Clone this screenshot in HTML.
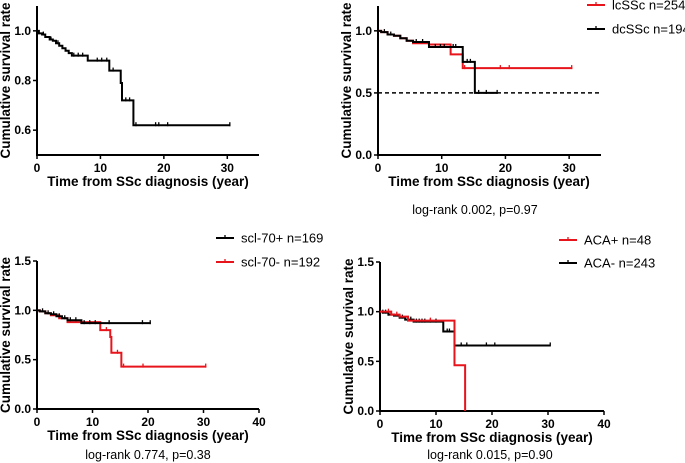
<!DOCTYPE html>
<html><head><meta charset="utf-8">
<style>
html,body{margin:0;padding:0;background:#fff;}
svg{display:block;font-family:"Liberation Sans",Arial,sans-serif;}
.tk{font-size:12px;font-weight:bold;fill:#000;}
.tt{font-size:13.5px;font-weight:bold;fill:#000;}
.lg{font-size:13px;fill:#000;}
.lr{font-size:12.5px;fill:#000;}
</style></head>
<body>
<svg id="chart" width="685" height="463" viewBox="0 0 685 463"></svg>
<script>
// ---- data ----
const p1Times = [0.3,0.8,1.3,2,2.5,3,3.5,4,4.5,5,5.5,8,11.4,13.2,13.4,15.2];
const p1Surv  = [0.99,0.985,0.975,0.965,0.96,0.95,0.94,0.93,0.92,0.91,0.90,0.88,0.84,0.79,0.72,0.62];
const p1End = 30.5;
const p1Cens = [1,2.2,3.3,5.8,6.5,7.2,9.5,10.2,11,12,14,14.6,15.6,18.7,19.2,20.6,30.4];

const p2RedTimes = [0.5,1.5,2.5,3.5,4.5,5.5,8,11.4,13.3];
const p2RedSurv  = [0.99,0.97,0.96,0.94,0.92,0.90,0.89,0.81,0.70];
const p2RedEnd = 30.5;
const p2RedCens = [13.6,19.2,20.6,30.4];
const p2BlkTimes = [0.5,1.5,2.5,3.5,4.5,5.5,8,13.3,15.2];
const p2BlkSurv  = [0.99,0.97,0.96,0.94,0.92,0.91,0.87,0.75,0.50];
const p2BlkEnd = 18.7;
const p2BlkCens = [1,2,6,7,9,9.8,10.4,11.8,12.2,13.3,14,14.5,15.8,17,18.7];
const p2Ref = 0.5;

const p3BlkTimes = [0.5,1.5,2.5,3.5,4.5,5.5,8];
const p3BlkSurv  = [0.99,0.97,0.96,0.94,0.92,0.90,0.87];
const p3BlkEnd = 20.5;
const p3BlkCens = [1,2,3,4,5,6,7,8.5,9.5,10.5,13,19,20.4];
const p3RedTimes = [0.5,1.5,2.5,4,5.5,11.4,13.2,13.4,15.2];
const p3RedSurv  = [0.99,0.97,0.95,0.92,0.88,0.80,0.73,0.57,0.43];
const p3RedEnd = 30.5;
const p3RedCens = [12.5,14.5,15.6,19.1,30.4];

const p4RedTimes = [2,3.5,5,13.3,15.2];
const p4RedSurv  = [0.97,0.95,0.91,0.46,0.0];
const p4RedEnd = 15.2;
const p4RedCens = [1.5,3,9];
const p4BlkTimes = [0.5,1.5,2.5,3.5,4.5,6,11.3,13.3];
const p4BlkSurv  = [0.99,0.97,0.96,0.94,0.92,0.90,0.80,0.66];
const p4BlkEnd = 30.4;
const p4BlkCens = [0.5,1,1.5,3.5,4,5.5,6.5,7,7.5,8,9,10,12.4,12,14.5,15.5,19,20.5,30.4];

const p1XTicks = [0,10,20,30], p1YTicks = [0.6,0.8,1.0];
const p2XTicks = [0,10,20,30], p2YTicks = [0.0,0.5,1.0];
const p3XTicks = [0,10,20,30,40], p3YTicks = [0.0,0.5,1.0,1.5];
const p4XTicks = [0,10,20,30,40], p4YTicks = [0.0,0.5,1.0,1.5];

// ---- drawing ----
const svg = document.getElementById('chart');
const NS = 'http://www.w3.org/2000/svg';
function mk(tag, attrs, parent){
  const e = document.createElementNS(NS, tag);
  for (const k in attrs) e.setAttribute(k, attrs[k]);
  (parent||svg).appendChild(e);
  return e;
}
function fmtY(v){ return v.toFixed(1); }

function panel(name, cfg){
  const g = mk('g', {});
  
  
  const sx = t => cfg.x0 + (t - 0) / (cfg.xmax) * (cfg.x1 - cfg.x0);
  const sy = v => cfg.y0 - (v - cfg.ymin) / (cfg.ymax - cfg.ymin) * (cfg.y0 - cfg.y1);
  const ax = mk('path', {d:`M${cfg.x0},${cfg.y1}V${cfg.y0}H${cfg.x1}`, fill:'none', stroke:'#000', 'stroke-width':2}, g);
  
  
  cfg.xt.forEach(t => {
    mk('line', {x1:sx(t), x2:sx(t), y1:cfg.y0, y2:cfg.y0+4, stroke:'#000','stroke-width':1.5}, g);
    const tx = mk('text', {x:sx(t), y:cfg.y0+17, 'text-anchor':'middle', class:'tk'}, g);
    tx.textContent = t;
    
    
  });
  cfg.yt.forEach(v => {
    mk('line', {x1:cfg.x0-4, x2:cfg.x0, y1:sy(v), y2:sy(v), stroke:'#000','stroke-width':1.5}, g);
    const tx = mk('text', {x:cfg.x0-6, y:sy(v)+4, 'text-anchor':'end', class:'tk'}, g);
    tx.textContent = fmtY(v);
    
    
  });
  const xtitle = mk('text', {x:(cfg.x0+cfg.xTitleC), y:cfg.y0+31, 'text-anchor':'middle', class:'tt'}, g);
  xtitle.textContent = 'Time from SSc diagnosis (year)';
  
  
  const cy = (cfg.y0+cfg.y1)/2;
  const ytitle = mk('text', {x:cfg.x0-27, y:cy, transform:`rotate(-90 ${cfg.x0-27} ${cy})`, 'text-anchor':'middle', class:'tt'}, g);
  ytitle.textContent = 'Cumulative survival rate';
  
  
  return {g, sx, sy};
}

function curve(P, name, times, surv, end, cens, color){
  let d = `M${P.sx(0)},${P.sy(1)}`;
  for (let i=0;i<times.length;i++){
    d += `H${P.sx(times[i])}V${P.sy(surv[i])}`;
  }
  d += `H${P.sx(end)}`;
  const p = mk('path', {d, fill:'none', stroke:color, 'stroke-width':2}, P.g);
  
  
  const valAt = t => { let s=1; for (let i=0;i<times.length;i++) if (times[i]<=t) s=surv[i]; return s; };
  cens.forEach(t => {
    const y = P.sy(valAt(t));
    const c = mk('line', {x1:P.sx(t), x2:P.sx(t), y1:y-3, y2:y+1, stroke:color, 'stroke-width':1.3}, P.g);
    
    
  });
}

function legend(name, x, y, label, color){
  const g = mk('g', {});
  
  
  mk('line', {x1:x, x2:x+18, y1:y, y2:y, stroke:color, 'stroke-width':2}, g);
  mk('line', {x1:x+9, x2:x+9, y1:y-3, y2:y, stroke:color, 'stroke-width':1.3}, g);
  const t = mk('text', {x:x+25, y:y+4.5, class:'lg'}, g);
  t.textContent = label;
}
function note(name, x, y, txt){
  const t = mk('text', {x, y, 'text-anchor':'middle', class:'lr'});
  t.textContent = txt;
  
  
}

const P1 = panel('overall-survival-panel', {x0:37, x1:259, y0:155, y1:6, xmax:35, ymin:0.5, ymax:1.1, xt:p1XTicks, yt:p1YTicks, xTitleC:111});
curve(P1, 'overall-curve', p1Times, p1Surv, p1End, p1Cens, '#000');

const P2 = panel('lcssc-dcssc-panel', {x0:378, x1:601, y0:155, y1:6, xmax:35, ymin:0, ymax:1.2, xt:p2XTicks, yt:p2YTicks, xTitleC:111});
const ref = mk('line', {x1:P2.sx(0), x2:P2.sx(35), y1:P2.sy(p2Ref), y2:P2.sy(p2Ref), stroke:'#000', 'stroke-width':1.5, 'stroke-dasharray':'4,3'}, P2.g);


curve(P2, 'lcssc-curve', p2RedTimes, p2RedSurv, p2RedEnd, p2RedCens, '#e8141b');
curve(P2, 'dcssc-curve', p2BlkTimes, p2BlkSurv, p2BlkEnd, p2BlkCens, '#000');
legend('legend-lcssc', 587, 5, 'lcSSc n=254', '#e8141b');
legend('legend-dcssc', 587, 29, 'dcSSc n=194', '#000');
note('logrank-note-2', 475, 214, 'log-rank 0.002, p=0.97');

const P3 = panel('scl70-panel', {x0:37, x1:259, y0:409, y1:261, xmax:40, ymin:0, ymax:1.5, xt:p3XTicks, yt:p3YTicks, xTitleC:111});
curve(P3, 'scl70-neg-curve', p3RedTimes, p3RedSurv, p3RedEnd, p3RedCens, '#e8141b');
curve(P3, 'scl70-pos-curve', p3BlkTimes, p3BlkSurv, p3BlkEnd, p3BlkCens, '#000');
legend('legend-scl70-pos', 216, 238, 'scl-70+ n=169', '#000');
legend('legend-scl70-neg', 216, 262, 'scl-70- n=192', '#e8141b');
note('logrank-note-3', 148, 459, 'log-rank 0.774, p=0.38');

const P4 = panel('aca-panel', {x0:380, x1:604, y0:411, y1:262, xmax:40, ymin:0, ymax:1.5, xt:p4XTicks, yt:p4YTicks, xTitleC:112});
curve(P4, 'aca-neg-curve', p4BlkTimes, p4BlkSurv, p4BlkEnd, p4BlkCens, '#000');
curve(P4, 'aca-pos-curve', p4RedTimes, p4RedSurv, p4RedEnd, p4RedCens, '#e8141b');
legend('legend-aca-pos', 559, 240, 'ACA+ n=48', '#e8141b');
legend('legend-aca-neg', 559, 263, 'ACA- n=243', '#000');
note('logrank-note-4', 490, 459, 'log-rank 0.015, p=0.90');
</script>
</body></html>
